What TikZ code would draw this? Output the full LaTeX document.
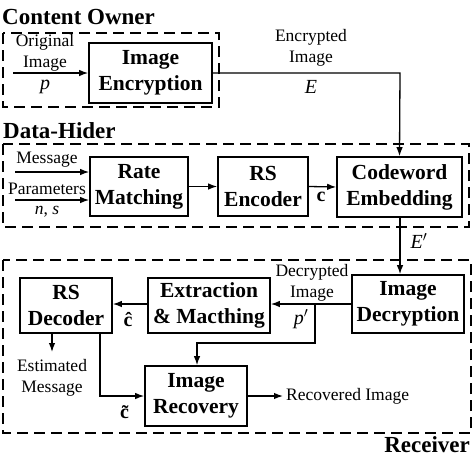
\documentclass[tikz,border=0pt]{standalone}
\usepackage{fontspec}
\setmainfont{Liberation Serif}
\usetikzlibrary{arrows.meta}
\begin{document}
\begin{tikzpicture}[x=1pt,y=-1pt,
  blk/.style={draw,line width=1.6pt,align=center,inner sep=0pt,font=\fontsize{21.5}{26}\selectfont\bfseries},
  grp/.style={draw,line width=1.5pt,dash pattern=on 11pt off 6pt},
  arr/.style={line width=1.3pt,-{Latex[length=9pt,width=6.5pt]}},
  lbl/.style={align=center,inner sep=0pt,font=\fontsize{17.5}{21}\selectfont},
  ttl/.style={inner sep=0pt,font=\fontsize{23}{27}\selectfont\bfseries},
  sym/.style={inner sep=0pt,font=\fontsize{20}{24}\selectfont}]
\useasboundingbox (0,0) rectangle (474,461);
% groups
\draw[grp] (3,33) rectangle (219,107);
\draw[grp] (3,144) rectangle (469,227);
\draw[grp] (3,260) rectangle (471,433);
\node[ttl,anchor=west] (tco) at (2,17) {Content Owner};
\node[ttl,anchor=west] (tdh) at (3,131) {Data-Hider};
\node[ttl,anchor=east] (trx) at (470,445) {Receiver};
% blocks
\node[blk,minimum width=123pt,minimum height=60pt] (enc) at (150.5,73) {Image\\Encryption};
\node[blk,minimum width=98pt,minimum height=59pt] (rate) at (139,186.5) {Rate\\Matching};
\node[blk,minimum width=90pt,minimum height=59pt] (rsenc) at (263,186.5) {RS\\Encoder};
\node[blk,minimum width=125pt,minimum height=60pt] (emb) at (399.5,187) {Codeword\\Embedding};
\node[blk,minimum width=112pt,minimum height=58pt] (dec) at (408,304) {Image\\Decryption};
\node[blk,minimum width=122pt,minimum height=55pt] (ext) at (209,305.5) {Extraction\\\& Macthing};
\node[blk,minimum width=92pt,minimum height=55pt] (rsdec) at (66,305.5) {RS\\Decoder};
\node[blk,minimum width=102pt,minimum height=60pt] (rec) at (196,396) {Image\\Recovery};
% content owner input
\coordinate (cin) at (13,73);
\draw[arr] (cin) -- (enc.west);
\node[lbl] (lorig) at (45,53) {Original\\Image};
\node[sym] (lp) at (45,87) {\textit{p}};
% encrypted image
\coordinate (cE) at (400,73);
\draw[arr] (enc.east) -- (cE) -- (emb.north);
\node[lbl] (lenc) at (311,48) {Encrypted\\Image};
\node[sym] (lE) at (311,87) {\textit{E}};
% data hider inputs
\coordinate (cmsg) at (15,172);
\coordinate (cpar) at (15,200);
\draw[arr] (cmsg) -- (cmsg -| rate.west);
\draw[arr] (cpar) -- (cpar -| rate.west);
\node[lbl] (lmsg) at (47,160) {Message};
\node[lbl] (lpar) at (47,189) {Parameters};
\node[lbl] (lns) at (47,212) {\textit{n}, \textit{s}};
\draw[arr] (rate.east) -- (rsenc.west);
\draw[arr] (rsenc.east) -- (emb.west);
\node[sym] (lc) at (321,197) {\textbf{c}};
% to receiver
\draw[arr] (emb.south -| cE) -- (cE |- dec.north);
\node[sym] (lEp) at (419,241) {\textit{E}$'$};
% receiver
\draw[arr] (dec.west) -- (ext.east |- dec.west);
\node[lbl] (ldec) at (312,283) {Decrypted\\Image};
\node[sym] (lpp) at (301,319) {\textit{p}$'$};
\coordinate (br1) at (315,304);
\coordinate (br2) at (315,343);
\coordinate (br3) at (197,343);
\draw[arr] (br1) -- (br2) -- (br3) -- (br3 |- rec.north);
\draw[arr] (ext.west |- dec.west) -- (rsdec.east |- dec.west);
\node[sym] (lch) at (128,320) {\textbf{ĉ}};
\coordinate (est) at (52,352);
\draw[arr] (rsdec.south -| est) -- (est);
\node[lbl] (lest) at (52,378) {Estimated\\Message};
\coordinate (ct) at (100,396);
\draw[arr] (rsdec.south -| ct) -- (ct) -- (rec.west);
\node[sym] (lct) at (128,412) {\textbf{\~{c}}};
\coordinate (rout) at (283,396);
\draw[arr] (rec.east) -- (rout);
\node[lbl,anchor=west] (lrec) at (286,396) {Recovered Image};
\end{tikzpicture}
\end{document}
